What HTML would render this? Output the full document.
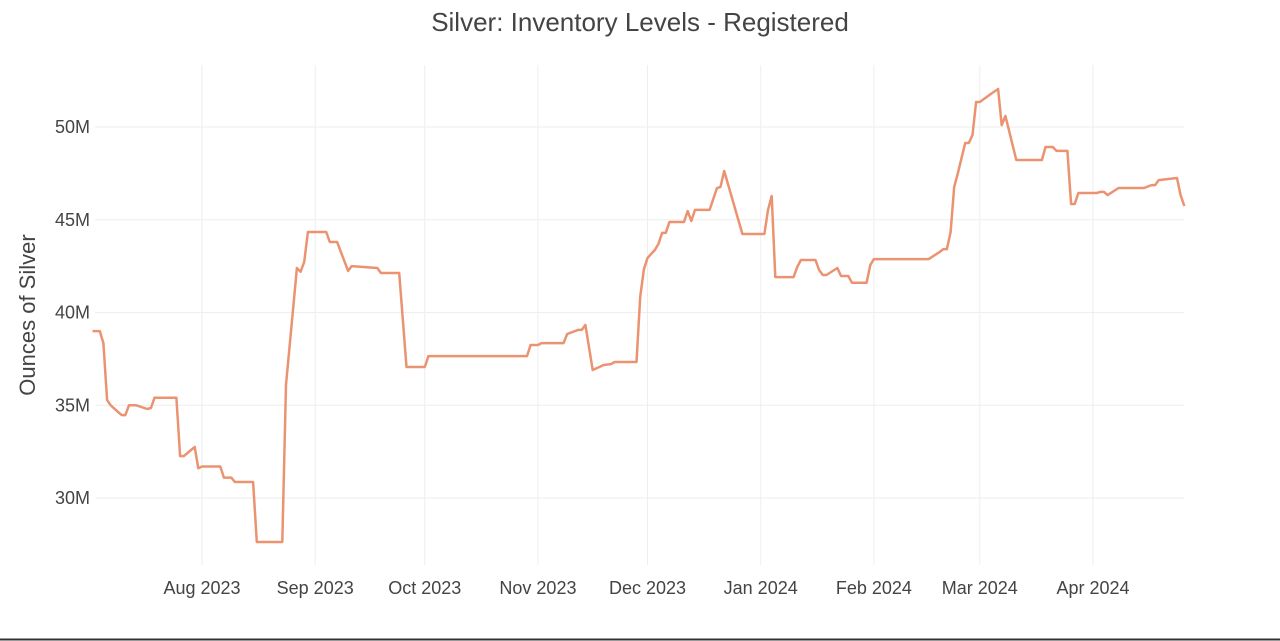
<!DOCTYPE html>
<html><head><meta charset="utf-8"><title>Silver: Inventory Levels - Registered</title>
<style>
html,body{margin:0;padding:0;background:#fff;}
svg{display:block;font-family:"Liberation Sans",sans-serif;}
</style></head>
<body>
<svg id="chart" width="1280" height="641" viewBox="0 0 1280 641" xmlns="http://www.w3.org/2000/svg">
<defs><clipPath id="plotclip"><rect x="90" y="60" width="1096" height="510"/></clipPath></defs>
<text x="640" y="31" text-anchor="middle" font-size="26" fill="#444">Silver: Inventory Levels - Registered</text>
<text transform="translate(35,315) rotate(-90)" text-anchor="middle" font-size="22" fill="#444">Ounces of Silver</text>
<g id="grid"></g>
<g id="ticks"></g>
<g id="series" clip-path="url(#plotclip)"></g>
<line x1="0" y1="639.5" x2="1280" y2="639.5" stroke="#333" stroke-width="2"/>
</svg>
<script>
const dates = ["2023-07-02","2023-07-04","2023-07-05","2023-07-06","2023-07-07","2023-07-09","2023-07-10","2023-07-11","2023-07-12","2023-07-14","2023-07-17","2023-07-18","2023-07-19","2023-07-25","2023-07-26","2023-07-27","2023-07-30","2023-07-31","2023-08-01","2023-08-06","2023-08-07","2023-08-09","2023-08-10","2023-08-15","2023-08-16","2023-08-23","2023-08-24","2023-08-27","2023-08-28","2023-08-29","2023-08-30","2023-09-04","2023-09-05","2023-09-07","2023-09-10","2023-09-11","2023-09-18","2023-09-19","2023-09-24","2023-09-26","2023-10-01","2023-10-02","2023-10-29","2023-10-30","2023-11-01","2023-11-02","2023-11-08","2023-11-09","2023-11-12","2023-11-13","2023-11-14","2023-11-16","2023-11-19","2023-11-21","2023-11-22","2023-11-28","2023-11-29","2023-11-30","2023-12-01","2023-12-03","2023-12-04","2023-12-05","2023-12-06","2023-12-07","2023-12-11","2023-12-12","2023-12-13","2023-12-14","2023-12-18","2023-12-20","2023-12-21","2023-12-22","2023-12-27","2024-01-02","2024-01-03","2024-01-04","2024-01-05","2024-01-10","2024-01-11","2024-01-12","2024-01-16","2024-01-17","2024-01-18","2024-01-19","2024-01-22","2024-01-23","2024-01-25","2024-01-26","2024-01-30","2024-01-31","2024-02-01","2024-02-16","2024-02-19","2024-02-20","2024-02-21","2024-02-22","2024-02-23","2024-02-24","2024-02-26","2024-02-27","2024-02-28","2024-02-29","2024-03-01","2024-03-04","2024-03-06","2024-03-07","2024-03-08","2024-03-11","2024-03-18","2024-03-19","2024-03-21","2024-03-22","2024-03-25","2024-03-26","2024-03-27","2024-03-28","2024-04-02","2024-04-03","2024-04-04","2024-04-05","2024-04-08","2024-04-15","2024-04-17","2024-04-18","2024-04-19","2024-04-24","2024-04-25","2024-04-26"];
const values = [39.0,39.0,38.35,35.28,35.0,34.64,34.47,34.47,35.0,35.0,34.8,34.85,35.4,35.4,32.26,32.26,32.75,31.6,31.7,31.7,31.1,31.1,30.86,30.86,27.63,27.63,36.1,42.4,42.2,42.72,44.34,44.34,43.8,43.8,42.24,42.5,42.4,42.13,42.13,37.06,37.06,37.65,37.65,38.25,38.25,38.35,38.35,38.84,39.06,39.06,39.33,36.9,37.17,37.22,37.33,37.33,40.84,42.3,42.94,43.37,43.7,44.29,44.29,44.88,44.88,45.47,44.93,45.53,45.53,46.7,46.77,47.63,44.23,44.23,45.53,46.28,41.91,41.91,42.45,42.83,42.83,42.29,42.02,42.02,42.4,41.97,41.97,41.6,41.6,42.56,42.88,42.88,43.26,43.42,43.42,44.34,46.77,47.52,49.14,49.14,49.57,51.35,51.35,51.78,52.05,50.1,50.6,48.22,48.22,48.92,48.92,48.71,48.71,45.85,45.85,46.44,46.44,46.5,46.5,46.33,46.71,46.71,46.87,46.87,47.14,47.25,46.33,45.74];
const yTicks = [30,35,40,45,50];
const yTickLabels = ["30M","35M","40M","45M","50M"];
const xTicks = ["2023-08-01","2023-09-01","2023-10-01","2023-11-01","2023-12-01","2024-01-01","2024-02-01","2024-03-01","2024-04-01"];
const xTickLabels = ["Aug 2023","Sep 2023","Oct 2023","Nov 2023","Dec 2023","Jan 2024","Feb 2024","Mar 2024","Apr 2024"];

const NS="http://www.w3.org/2000/svg";
const L=95,R=1184;
const tA=Date.parse("2023-08-01"), tB=Date.parse("2024-04-01");
function xs(d){return 202+(Date.parse(d)-tA)/(tB-tA)*(1093-202);}
function ys(v){return 127+(50-v)*18.55;}
const grid=document.getElementById('grid'), ticks=document.getElementById('ticks'), series=document.getElementById('series');
yTicks.forEach((v,i)=>{
  const ln=document.createElementNS(NS,'line');
  
  
  ln.setAttribute('x1',L);ln.setAttribute('x2',R);ln.setAttribute('y1',ys(v));ln.setAttribute('y2',ys(v));
  ln.setAttribute('stroke','#eeeeee');ln.setAttribute('stroke-width','1');
  grid.appendChild(ln);
  const tx=document.createElementNS(NS,'text');
  
  
  tx.setAttribute('x',90);tx.setAttribute('y',ys(v)+6);tx.setAttribute('text-anchor','end');
  tx.setAttribute('font-size','18');tx.setAttribute('fill','#444');
  tx.textContent=yTickLabels[i];
  ticks.appendChild(tx);
});
xTicks.forEach((d,i)=>{
  const x=xs(d);
  const ln=document.createElementNS(NS,'line');
  
  
  ln.setAttribute('x1',x);ln.setAttribute('x2',x);ln.setAttribute('y1',65);ln.setAttribute('y2',565);
  ln.setAttribute('stroke','#eeeeee');ln.setAttribute('stroke-width','1');
  grid.appendChild(ln);
  const tx=document.createElementNS(NS,'text');
  
  
  tx.setAttribute('x',x);tx.setAttribute('y',594);tx.setAttribute('text-anchor','middle');
  tx.setAttribute('font-size','18');tx.setAttribute('fill','#444');
  tx.textContent=xTickLabels[i];
  ticks.appendChild(tx);
});
const p=document.createElementNS(NS,'path');


p.setAttribute('d',dates.map((d,i)=>(i?'L':'M')+xs(d).toFixed(1)+','+ys(values[i]).toFixed(1)).join(''));
p.setAttribute('fill','none');p.setAttribute('stroke','#EB9371');p.setAttribute('stroke-width','2.5');p.setAttribute('stroke-linejoin','round');
series.appendChild(p);
</script>
</body></html>
